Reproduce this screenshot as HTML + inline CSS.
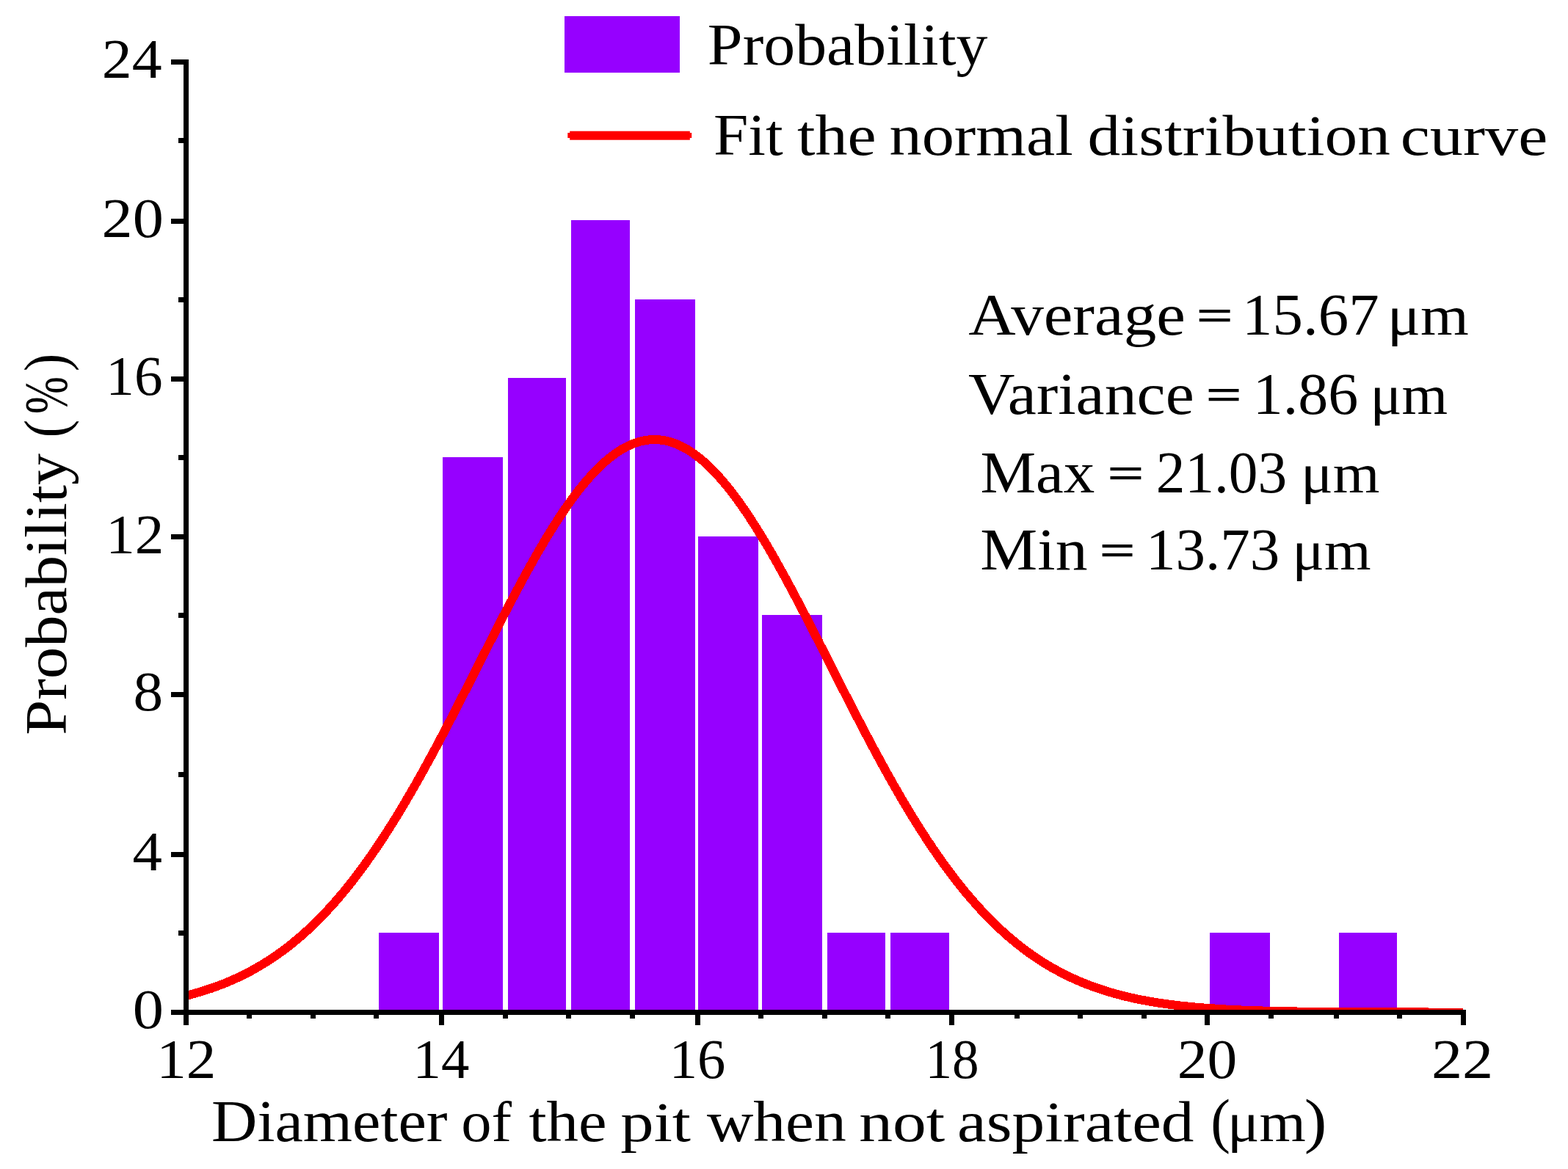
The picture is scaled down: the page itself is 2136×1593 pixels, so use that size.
<!DOCTYPE html>
<html lang="en">
<head>
<meta charset="utf-8">
<title>Probability distribution of pit diameter</title>
<style>
html,body{margin:0;padding:0;background:#fff;}
body{width:2136px;height:1593px;overflow:hidden;}
</style>
</head>
<body>
<svg width="2136" height="1593" viewBox="0 0 2136 1593" role="img" aria-label="Histogram of pit diameter with fitted normal distribution curve" style="display:block">
<rect x="0" y="0" width="2136" height="1593" fill="#ffffff"/>
<g id="bars" fill="#9600FF" shape-rendering="crispEdges">
<rect x="516" y="1271" width="82" height="109"/>
<rect x="603" y="623" width="82" height="757"/>
<rect x="692" y="515" width="79" height="865"/>
<rect x="778" y="300" width="80" height="1080"/>
<rect x="865" y="408" width="82" height="972"/>
<rect x="951" y="731" width="82" height="649"/>
<rect x="1038" y="838" width="82" height="542"/>
<rect x="1127" y="1271" width="79" height="109"/>
<rect x="1213" y="1271" width="80" height="109"/>
<rect x="1648" y="1271" width="82" height="109"/>
<rect x="1824" y="1271" width="79" height="109"/>
</g>
<clipPath id="plot"><rect x="257" y="0" width="1738" height="1383"/></clipPath>
<polyline id="fit" clip-path="url(#plot)" shape-rendering="crispEdges" fill="none" stroke="#FF0000" stroke-width="12" stroke-linejoin="round" points="253.5,1356.9 257.8,1355.8 262.2,1354.6 266.5,1353.4 270.9,1352.1 275.2,1350.8 279.6,1349.4 283.9,1348.0 288.3,1346.6 292.6,1345.0 297.0,1343.4 301.3,1341.8 305.7,1340.1 310.0,1338.3 314.4,1336.4 318.7,1334.5 323.1,1332.5 327.4,1330.5 331.8,1328.3 336.1,1326.1 340.5,1323.9 344.8,1321.5 349.2,1319.1 353.5,1316.5 357.9,1313.9 362.2,1311.2 366.6,1308.5 370.9,1305.6 375.3,1302.6 379.6,1299.6 384.0,1296.5 388.3,1293.2 392.7,1289.9 397.0,1286.5 401.4,1282.9 405.7,1279.3 410.1,1275.6 414.4,1271.7 418.8,1267.8 423.1,1263.7 427.5,1259.6 431.8,1255.3 436.2,1250.9 440.5,1246.4 444.9,1241.8 449.2,1237.1 453.6,1232.3 457.9,1227.4 462.3,1222.3 466.6,1217.2 471.0,1211.9 475.3,1206.5 479.7,1201.0 484.0,1195.4 488.4,1189.6 492.7,1183.8 497.1,1177.8 501.4,1171.7 505.8,1165.6 510.1,1159.3 514.5,1152.8 518.8,1146.3 523.2,1139.7 527.5,1133.0 531.9,1126.1 536.2,1119.2 540.6,1112.1 544.9,1105.0 549.3,1097.7 553.6,1090.4 558.0,1082.9 562.3,1075.4 566.7,1067.8 571.0,1060.1 575.4,1052.3 579.7,1044.4 584.1,1036.5 588.4,1028.5 592.8,1020.4 597.1,1012.2 601.5,1004.0 605.8,995.8 610.2,987.4 614.5,979.1 618.9,970.7 623.2,962.2 627.6,953.7 631.9,945.2 636.3,936.7 640.6,928.1 645.0,919.5 649.3,910.9 653.7,902.3 658.0,893.8 662.4,885.2 666.7,876.6 671.1,868.1 675.4,859.6 679.8,851.1 684.1,842.6 688.5,834.2 692.8,825.9 697.2,817.6 701.5,809.3 705.9,801.2 710.2,793.1 714.6,785.1 718.9,777.2 723.3,769.4 727.6,761.7 732.0,754.0 736.3,746.6 740.7,739.2 745.0,731.9 749.4,724.8 753.7,717.9 758.1,711.0 762.4,704.4 766.8,697.8 771.1,691.5 775.5,685.3 779.8,679.3 784.2,673.5 788.5,667.8 792.9,662.4 797.2,657.1 801.6,652.1 805.9,647.2 810.3,642.6 814.6,638.2 819.0,634.0 823.3,630.0 827.7,626.2 832.0,622.7 836.4,619.4 840.7,616.4 845.1,613.5 849.4,611.0 853.8,608.6 858.1,606.6 862.5,604.7 866.8,603.2 871.2,601.8 875.5,600.8 879.9,599.9 884.2,599.4 888.6,599.1 892.9,599.0 897.3,599.3 901.6,599.7 906.0,600.4 910.3,601.4 914.7,602.7 919.0,604.1 923.4,605.9 927.7,607.9 932.1,610.1 936.4,612.6 940.8,615.3 945.1,618.3 949.5,621.5 953.8,624.9 958.2,628.6 962.5,632.5 966.9,636.6 971.2,641.0 975.6,645.5 979.9,650.3 984.3,655.3 988.6,660.5 993.0,665.8 997.3,671.4 1001.7,677.2 1006.0,683.1 1010.4,689.2 1014.7,695.5 1019.1,702.0 1023.4,708.6 1027.8,715.4 1032.1,722.3 1036.5,729.4 1040.8,736.6 1045.2,743.9 1049.5,751.3 1053.9,758.9 1058.2,766.6 1062.6,774.4 1066.9,782.2 1071.3,790.2 1075.6,798.3 1080.0,806.4 1084.3,814.6 1088.7,822.9 1093.0,831.2 1097.4,839.6 1101.7,848.0 1106.1,856.5 1110.4,865.0 1114.8,873.5 1119.1,882.1 1123.5,890.7 1127.8,899.2 1132.1,907.8 1136.5,916.4 1140.8,925.0 1145.2,933.6 1149.5,942.1 1153.9,950.6 1158.2,959.1 1162.6,967.6 1166.9,976.0 1171.3,984.4 1175.6,992.8 1180.0,1001.1 1184.3,1009.3 1188.7,1017.5 1193.0,1025.6 1197.4,1033.6 1201.7,1041.6 1206.1,1049.5 1210.4,1057.3 1214.8,1065.0 1219.1,1072.7 1223.5,1080.2 1227.8,1087.7 1232.2,1095.1 1236.5,1102.4 1240.9,1109.6 1245.2,1116.6 1249.6,1123.6 1253.9,1130.5 1258.3,1137.3 1262.6,1144.0 1267.0,1150.5 1271.3,1157.0 1275.7,1163.3 1280.0,1169.5 1284.4,1175.7 1288.7,1181.7 1293.1,1187.5 1297.4,1193.3 1301.8,1199.0 1306.1,1204.5 1310.5,1210.0 1314.8,1215.3 1319.2,1220.5 1323.5,1225.6 1327.9,1230.5 1332.2,1235.4 1336.6,1240.2 1340.9,1244.8 1345.3,1249.3 1349.6,1253.7 1354.0,1258.0 1358.3,1262.2 1362.7,1266.3 1367.0,1270.3 1371.4,1274.2 1375.7,1278.0 1380.1,1281.6 1384.4,1285.2 1388.8,1288.7 1393.1,1292.0 1397.5,1295.3 1401.8,1298.5 1406.2,1301.6 1410.5,1304.5 1414.9,1307.4 1419.2,1310.3 1423.6,1313.0 1427.9,1315.6 1432.3,1318.2 1436.6,1320.6 1441.0,1323.0 1445.3,1325.3 1449.7,1327.6 1454.0,1329.7 1458.4,1331.8 1462.7,1333.8 1467.1,1335.7 1471.4,1337.6 1475.8,1339.4 1480.1,1341.2 1484.5,1342.8 1488.8,1344.5 1493.2,1346.0 1497.5,1347.5 1501.9,1348.9 1506.2,1350.3 1510.6,1351.7 1514.9,1352.9 1519.3,1354.2 1523.6,1355.3 1528.0,1356.5 1532.3,1357.6 1536.7,1358.6 1541.0,1359.6 1545.4,1360.6 1549.7,1361.5 1554.1,1362.4 1558.4,1363.2 1562.8,1364.0 1567.1,1364.8 1571.5,1365.5 1575.8,1366.2 1580.2,1366.9 1584.5,1367.5 1588.9,1368.1 1593.2,1368.7 1597.6,1369.3 1601.9,1369.8 1606.3,1370.3 1610.6,1370.8 1615.0,1371.3 1619.3,1371.7 1623.7,1372.1 1628.0,1372.5 1632.4,1372.9 1636.7,1373.3 1641.1,1373.6 1645.4,1373.9 1649.8,1374.2 1654.1,1374.5 1658.5,1374.8 1662.8,1375.1 1667.2,1375.3 1671.5,1375.6 1675.9,1375.8 1680.2,1376.0 1684.6,1376.2 1688.9,1376.4 1693.3,1376.6 1697.6,1376.8 1702.0,1376.9 1706.3,1377.1 1710.7,1377.2 1715.0,1377.4 1719.4,1377.5 1723.7,1377.6 1728.1,1377.7 1732.4,1377.8 1736.8,1377.9 1741.1,1378.0 1745.5,1378.1 1749.8,1378.2 1754.2,1378.3 1758.5,1378.4 1762.9,1378.4 1767.2,1378.5 1771.6,1378.6 1775.9,1378.6 1780.3,1378.7 1784.6,1378.7 1789.0,1378.8 1793.3,1378.8 1797.7,1378.9 1802.0,1378.9 1806.4,1379.0 1810.7,1379.0 1815.1,1379.0 1819.4,1379.1 1823.8,1379.1 1828.1,1379.1 1832.5,1379.1 1836.8,1379.2 1841.2,1379.2 1845.5,1379.2 1849.9,1379.2 1854.2,1379.3 1858.6,1379.3 1862.9,1379.3 1867.3,1379.3 1871.6,1379.3 1876.0,1379.3 1880.3,1379.3 1884.7,1379.4 1889.0,1379.4 1893.4,1379.4 1897.7,1379.4 1902.1,1379.4 1906.4,1379.4 1910.8,1379.4 1915.1,1379.4 1919.5,1379.4 1923.8,1379.4 1928.2,1379.4 1932.5,1379.4 1936.9,1379.4 1941.2,1379.4 1945.6,1379.5 1949.9,1379.5 1954.3,1379.5 1958.6,1379.5 1963.0,1379.5 1967.3,1379.5 1971.7,1379.5 1976.0,1379.5 1980.4,1379.5 1984.7,1379.5 1989.1,1379.5 1993.4,1379.5"/>
<g id="axes" fill="#000000" shape-rendering="crispEdges">
<rect x="250" y="81" width="7" height="1316"/>
<rect x="233" y="1376" width="1764" height="7"/>
<rect x="233" y="81" width="20" height="7"/>
<rect x="233" y="298" width="20" height="7"/>
<rect x="233" y="513" width="20" height="7"/>
<rect x="233" y="728" width="20" height="7"/>
<rect x="233" y="943" width="20" height="7"/>
<rect x="233" y="1161" width="20" height="7"/>
<rect x="243" y="188" width="10" height="7"/>
<rect x="243" y="405" width="10" height="7"/>
<rect x="243" y="620" width="10" height="7"/>
<rect x="243" y="835" width="10" height="7"/>
<rect x="243" y="1052" width="10" height="7"/>
<rect x="243" y="1268" width="10" height="7"/>
<rect x="598" y="1380" width="7" height="17"/>
<rect x="947" y="1380" width="7" height="17"/>
<rect x="1293" y="1380" width="7" height="17"/>
<rect x="1641" y="1380" width="7" height="17"/>
<rect x="1990" y="1380" width="7" height="17"/>
<rect x="336" y="1380" width="7" height="8"/>
<rect x="423" y="1380" width="7" height="8"/>
<rect x="509" y="1380" width="7" height="8"/>
<rect x="685" y="1380" width="7" height="8"/>
<rect x="771" y="1380" width="7" height="8"/>
<rect x="858" y="1380" width="7" height="8"/>
<rect x="1033" y="1380" width="7" height="8"/>
<rect x="1120" y="1380" width="7" height="8"/>
<rect x="1206" y="1380" width="7" height="8"/>
<rect x="1382" y="1380" width="7" height="8"/>
<rect x="1468" y="1380" width="7" height="8"/>
<rect x="1555" y="1380" width="7" height="8"/>
<rect x="1728" y="1380" width="7" height="8"/>
<rect x="1817" y="1380" width="7" height="8"/>
<rect x="1903" y="1380" width="7" height="8"/>
</g>
<rect x="769" y="22" width="157" height="77" fill="#9600FF" shape-rendering="crispEdges"/>
<rect x="776.2" y="178.7" width="163.6" height="12" fill="#FF0000"/>
<rect x="773.3" y="181" width="168.9" height="7" fill="#FF0000"/>
<g id="labels" font-family="'Liberation Serif', 'DejaVu Serif', serif" font-size="82" fill="#000000">
<text><tspan x="963.88" y="88" font-size="80" textLength="381.63" lengthAdjust="spacingAndGlyphs">Probability</tspan></text>
<text><tspan x="971.91" y="211" font-size="80" textLength="94.67" lengthAdjust="spacingAndGlyphs">Fit</tspan> <tspan x="1085.96" y="211" font-size="79" textLength="107.52" lengthAdjust="spacingAndGlyphs">the</tspan> <tspan x="1211.44" y="211" font-size="79" textLength="250.46" lengthAdjust="spacingAndGlyphs">normal</tspan> <tspan x="1481.59" y="211" font-size="79" textLength="412.38" lengthAdjust="spacingAndGlyphs">distribution</tspan> <tspan x="1907.66" y="211" font-size="76.5" textLength="200.66" lengthAdjust="spacingAndGlyphs">curve</tspan></text>
<text><tspan x="288.07" y="1555" font-size="80" textLength="321.60" lengthAdjust="spacingAndGlyphs">Diameter</tspan> <tspan x="628.26" y="1555" font-size="79" textLength="68.80" lengthAdjust="spacingAndGlyphs">of</tspan> <tspan x="720.47" y="1555" font-size="79" textLength="106.17" lengthAdjust="spacingAndGlyphs">the</tspan> <tspan x="845.32" y="1555" font-size="76.5" textLength="95.69" lengthAdjust="spacingAndGlyphs">pit</tspan> <tspan x="962.90" y="1555" font-size="79" textLength="190.04" lengthAdjust="spacingAndGlyphs">when</tspan> <tspan x="1170.21" y="1555" font-size="76.5" textLength="117.00" lengthAdjust="spacingAndGlyphs">not</tspan> <tspan x="1304.09" y="1555" font-size="79" textLength="322.42" lengthAdjust="spacingAndGlyphs">aspirated</tspan> <tspan x="1649.37" y="1555" font-size="82" textLength="26.73" lengthAdjust="spacingAndGlyphs">(</tspan><tspan x="1672.06" y="1555" font-size="76.5" textLength="106.79" lengthAdjust="spacingAndGlyphs">μm</tspan><tspan x="1776.71" y="1555" font-size="82" textLength="30.69" lengthAdjust="spacingAndGlyphs">)</tspan></text>
<text><tspan x="1319.36" y="456" font-size="80" textLength="295.50" lengthAdjust="spacingAndGlyphs">Average</tspan> <tspan x="1629.27" y="450" font-size="61" font-weight="bold" textLength="51.35" lengthAdjust="spacingAndGlyphs">=</tspan> <tspan x="1692.14" y="456" font-size="80" textLength="186.59" lengthAdjust="spacingAndGlyphs">15.67</tspan> <tspan x="1889.69" y="456" font-size="76.5" textLength="111.11" lengthAdjust="spacingAndGlyphs">μm</tspan></text>
<text><tspan x="1319.10" y="564" font-size="80" textLength="307.58" lengthAdjust="spacingAndGlyphs">Variance</tspan> <tspan x="1642.17" y="558" font-size="61" font-weight="bold" textLength="50.13" lengthAdjust="spacingAndGlyphs">=</tspan> <tspan x="1706.72" y="564" font-size="80" textLength="143.54" lengthAdjust="spacingAndGlyphs">1.86</tspan> <tspan x="1866.43" y="564" font-size="76.5" textLength="105.71" lengthAdjust="spacingAndGlyphs">μm</tspan></text>
<text><tspan x="1335.41" y="671" font-size="80" textLength="155.94" lengthAdjust="spacingAndGlyphs">Max</tspan> <tspan x="1507.97" y="665" font-size="61" font-weight="bold" textLength="51.35" lengthAdjust="spacingAndGlyphs">=</tspan> <tspan x="1574.63" y="671" font-size="80" textLength="178.60" lengthAdjust="spacingAndGlyphs">21.03</tspan> <tspan x="1771.91" y="671" font-size="76.5" textLength="107.55" lengthAdjust="spacingAndGlyphs">μm</tspan></text>
<text><tspan x="1335.33" y="776" font-size="80" textLength="146.18" lengthAdjust="spacingAndGlyphs">Min</tspan> <tspan x="1497.27" y="770" font-size="61" font-weight="bold" textLength="50.13" lengthAdjust="spacingAndGlyphs">=</tspan> <tspan x="1560.91" y="776" font-size="80" textLength="182.28" lengthAdjust="spacingAndGlyphs">13.73</tspan> <tspan x="1760.22" y="776" font-size="76.5" textLength="107.44" lengthAdjust="spacingAndGlyphs">μm</tspan></text>
<text><tspan x="138.88" y="106" font-size="77" textLength="81.85" lengthAdjust="spacingAndGlyphs">24</tspan></text>
<text><tspan x="138.57" y="323" font-size="77" textLength="84.32" lengthAdjust="spacingAndGlyphs">20</tspan></text>
<text><tspan x="144.33" y="538" font-size="77" textLength="77.23" lengthAdjust="spacingAndGlyphs">16</tspan></text>
<text><tspan x="144.17" y="754" font-size="77" textLength="79.10" lengthAdjust="spacingAndGlyphs">12</tspan></text>
<text><tspan x="181.43" y="968" font-size="77" textLength="40.63" lengthAdjust="spacingAndGlyphs">8</tspan></text>
<text><tspan x="180.42" y="1186" font-size="77" textLength="40.49" lengthAdjust="spacingAndGlyphs">4</tspan></text>
<text><tspan x="180.71" y="1401" font-size="77" textLength="42.17" lengthAdjust="spacingAndGlyphs">0</tspan></text>
<text><tspan x="213.28" y="1469" font-size="77" textLength="81.20" lengthAdjust="spacingAndGlyphs">12</tspan></text>
<text><tspan x="562.57" y="1469" font-size="77" textLength="76.78" lengthAdjust="spacingAndGlyphs">14</tspan></text>
<text><tspan x="911.78" y="1469" font-size="77" textLength="76.66" lengthAdjust="spacingAndGlyphs">16</tspan></text>
<text><tspan x="1260.39" y="1469" font-size="77" textLength="73.16" lengthAdjust="spacingAndGlyphs">18</tspan></text>
<text><tspan x="1603.70" y="1469" font-size="77" textLength="81.48" lengthAdjust="spacingAndGlyphs">20</tspan></text>
<text><tspan x="1949.97" y="1469" font-size="77" textLength="84.28" lengthAdjust="spacingAndGlyphs">22</tspan></text>
<text transform="translate(89.6,999.3) rotate(-90)"><tspan x="-2.43" y="0" font-size="80" textLength="383.85" lengthAdjust="spacingAndGlyphs">Probability</tspan> <tspan x="403.17" y="0" font-size="82" textLength="24.42" lengthAdjust="spacingAndGlyphs">(</tspan><tspan x="435.35" y="0" font-size="82" textLength="50.84" lengthAdjust="spacingAndGlyphs">%</tspan><tspan x="493.28" y="0" font-size="82" textLength="24.06" lengthAdjust="spacingAndGlyphs">)</tspan></text>
</g>
</svg>
</body>
</html>
